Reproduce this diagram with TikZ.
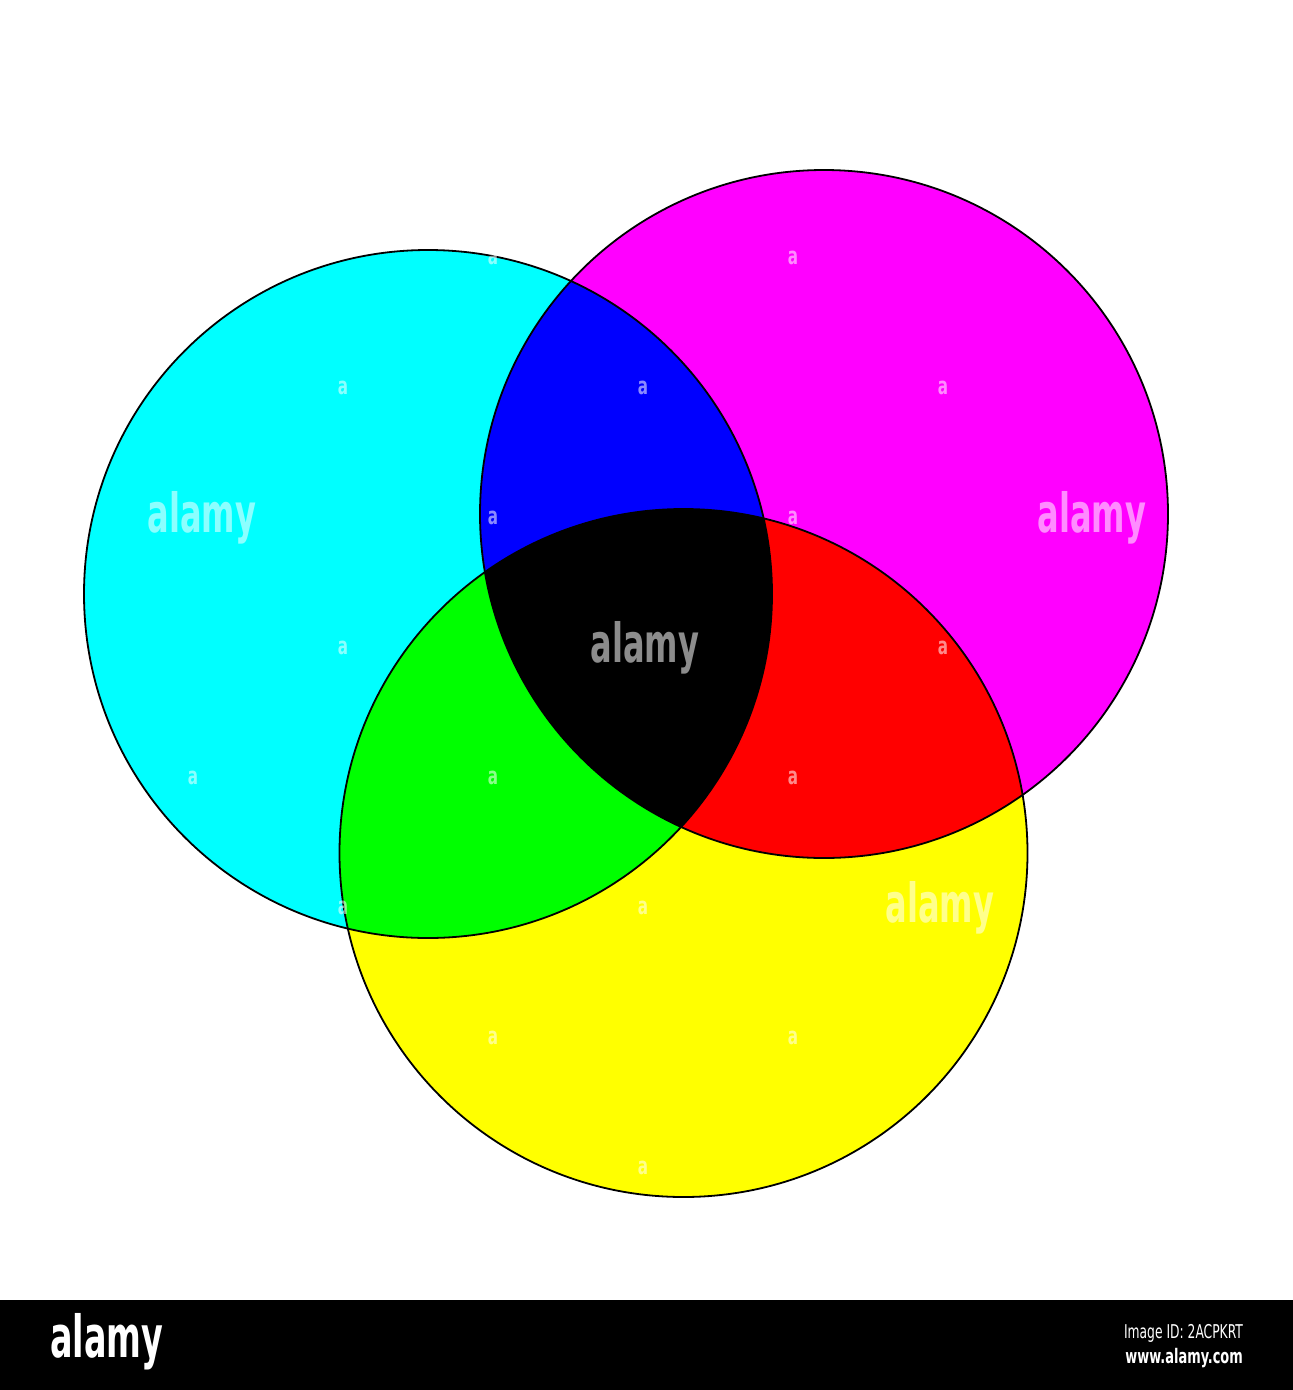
\documentclass[tikz,border=0pt]{standalone}
\usepackage{fontspec}
\newfontfamily\wm{DejaVu Sans Condensed}
\definecolor{pcyan}{RGB}{0,255,255}
\definecolor{pmagenta}{RGB}{255,0,255}
\definecolor{pyellow}{RGB}{255,255,0}
\definecolor{pblue}{RGB}{0,0,255}
\definecolor{pred}{RGB}{255,0,0}
\definecolor{pgreen}{RGB}{0,255,0}
\begin{document}
\begin{tikzpicture}[x=1pt,y=-1pt,
  ring/.style={draw=black,line width=1.8pt},
  wmbig/.style={text=white,opacity=0.55,font=\wm\bfseries\fontsize{54}{54}\selectfont,xscale=0.66,inner sep=0pt},
  wmsmall/.style={text=white,opacity=0.55,font=\wm\bfseries\fontsize{24}{24}\selectfont,xscale=0.7,inner sep=0pt}]
\useasboundingbox (0,0) rectangle (1293,1390);
\fill[white] (0,0) rectangle (1293,1390);
\coordinate (C) at (428,594);
\coordinate (M) at (824,514);
\coordinate (Y) at (683.5,853);
\def\R{344}
\fill[pcyan] (C) circle (\R);
\fill[pmagenta] (M) circle (\R);
\fill[pyellow] (Y) circle (\R);
\begin{scope}\clip (C) circle (\R); \fill[pblue] (M) circle (\R);\end{scope}
\begin{scope}\clip (C) circle (\R); \fill[pgreen] (Y) circle (\R);\end{scope}
\begin{scope}\clip (M) circle (\R); \fill[pred] (Y) circle (\R);\end{scope}
\begin{scope}\clip (C) circle (\R); \clip (M) circle (\R); \fill[black] (Y) circle (\R);\end{scope}
\draw[ring] (C) circle (\R);
\draw[ring] (M) circle (\R);
\draw[ring] (Y) circle (\R);
% watermarks
\node[wmbig] (w1) at (202,518) {alamy};
\node[wmbig] (w2) at (1092,518) {alamy};
\node[wmbig] (w3) at (645,648) {alamy};
\node[wmbig] (w4) at (940,908) {alamy};
\foreach \p [count=\i] in {(493,258),(793,258),(343,388),(643,388),(943,388),(493,518),(793,518),(343,648),(943,648),(193,778),(493,778),(793,778),(343,908),(643,908),(493,1038),(793,1038),(643,1168)}
  \node[wmsmall] (a\i) at \p {a};
% bottom bar
\fill[black] (0,1300) rectangle (1293,1390);
\node[text=white,font=\wm\bfseries\fontsize{58}{58}\selectfont,xscale=0.64,inner sep=0pt,anchor=west] (logo) at (50,1342) {alamy};
\node[text=white,font=\wm\fontsize{19}{19}\selectfont,xscale=0.72,inner sep=0pt,anchor=east] (id) at (1243,1333) {Image ID: 2ACPKRT};
\node[text=white,font=\wm\bfseries\fontsize{20}{20}\selectfont,xscale=0.72,inner sep=0pt,anchor=east] (url) at (1243,1358) {www.alamy.com};
\end{tikzpicture}
\end{document}
